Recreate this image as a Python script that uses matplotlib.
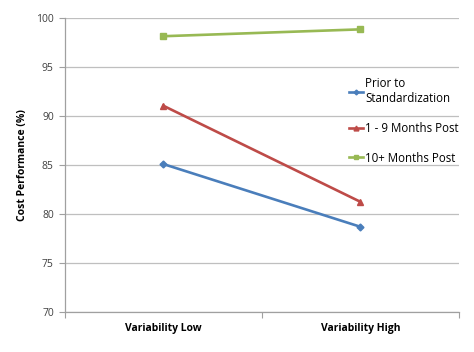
import matplotlib
matplotlib.use("Agg")
import matplotlib.pyplot as plt
import numpy as np

categories = ["Variability Low", "Variability High"]
series_names = ["Prior to\nStandardization", "1 - 9 Months Post", "10+ Months Post"]
prior = [85.1, 78.7]
months_1_9 = [91.05, 81.25]
months_10 = [98.15, 98.85]
yticks = [70, 75, 80, 85, 90, 95, 100]

plt.rcParams['font.family'] = ['Open Sans', 'DejaVu Sans']

fig = plt.figure(figsize=(4.74, 3.52), dpi=100)
ax = fig.add_axes([0.137, 0.1136, 0.831, 0.835])

x = np.arange(len(categories)) + 0.5
colors = ["#4A7EBB", "#BE4B48", "#98B954"]
markers = ["D", "^", "s"]
msizes = [3.5, 5, 4]
handles = []
for vals, c, m, ms, name in zip([prior, months_1_9, months_10], colors, markers, msizes, series_names):
    h, = ax.plot(x, vals, color=c, lw=1.9, marker=m, ms=ms, mec=c, mfc=c, label=name)
    handles.append(h)

ax.set_xlim(0, 2)
ax.set_ylim(70, 100)
ax.set_yticks(yticks)
ax.set_yticklabels([str(v) for v in yticks], fontsize=7.5, color="#404040")
ax.yaxis.grid(True, color="#BFBFBF", lw=0.9)
ax.set_axisbelow(True)

ax.set_xticks([0, 1, 2])
ax.set_xticklabels([])
ax.set_xticks(x, minor=True)
ax.set_xticklabels(categories, minor=True, fontsize=7.5, fontweight="bold")
ax.tick_params(axis="x", which="minor", length=0, pad=8)
ax.tick_params(axis="x", which="major", length=4, color="#A0A0A0", direction="out")
ax.tick_params(axis="y", length=4, color="#A0A0A0", direction="out", pad=4)

for s in ["top", "right"]:
    ax.spines[s].set_visible(False)
for s in ["left", "bottom"]:
    ax.spines[s].set_color("#A0A0A0")
    ax.spines[s].set_linewidth(0.9)

ax.set_ylabel("Cost Performance (%)", fontsize=7.5, fontweight="bold", labelpad=6)

leg = ax.legend(handles=handles, loc="upper left", bbox_to_anchor=(0.71, 0.815),
                frameon=False, fontsize=8.3, handlelength=1.2, handletextpad=0.2,
                labelspacing=1.45, borderaxespad=0, markerscale=0.7)

fig.savefig("out.png", dpi=100)
